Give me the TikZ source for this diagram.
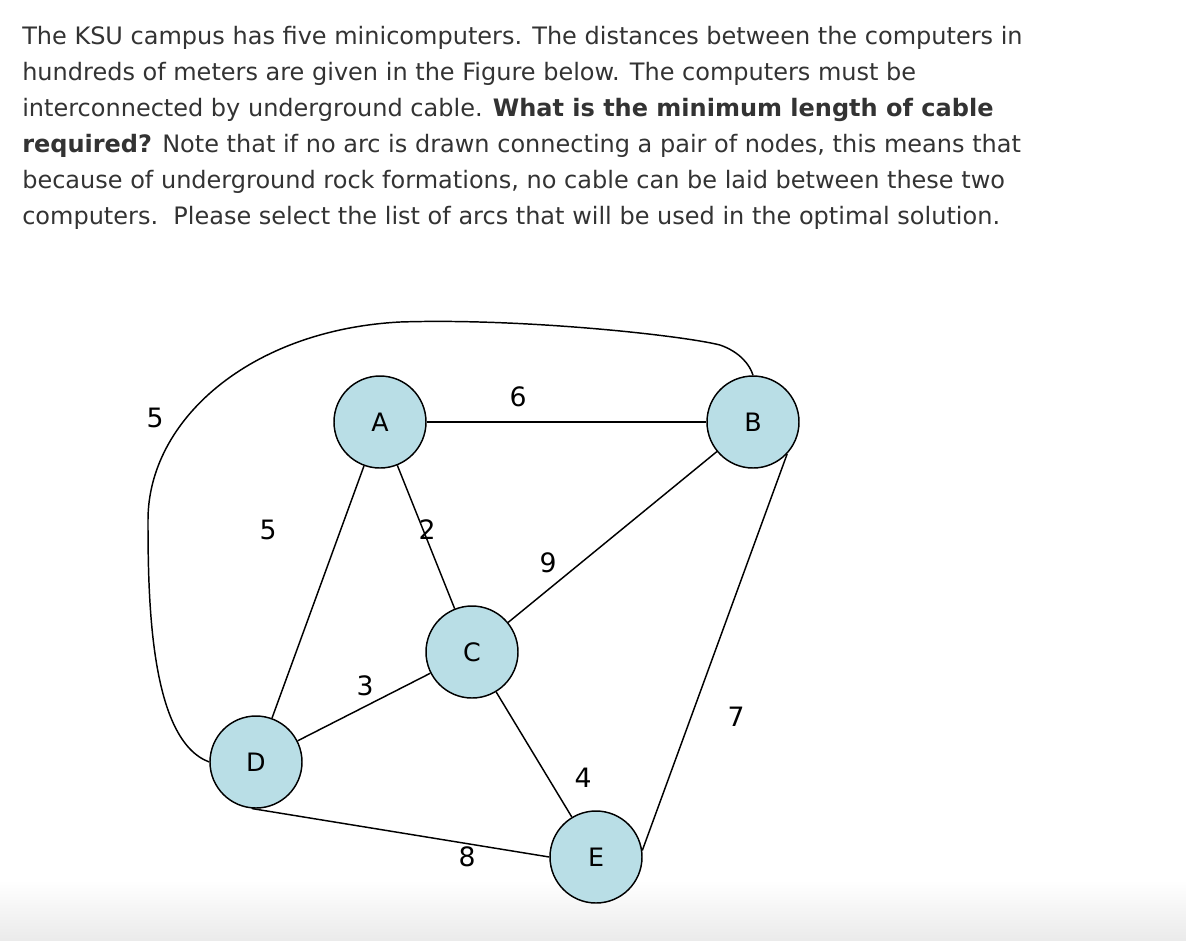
\documentclass[tikz,border=0pt]{standalone}
\usepackage{fontspec}
\setmainfont{DejaVu Sans}
\definecolor{nodeblue}{HTML}{B9DEE6}
\definecolor{txt}{HTML}{333333}
\begin{document}
\begin{tikzpicture}[x=0.75pt,y=-0.75pt,
  vert/.style={circle,draw=black,line width=1.1pt,fill=nodeblue,minimum size=69pt,inner sep=0pt,font=\fontsize{19}{19}\selectfont},
  edge/.style={line width=1.1pt},
  wt/.style={font=\fontsize{20}{20}\selectfont},
  line/.style={anchor=base west,inner sep=0pt,text=txt,font=\fontsize{18}{18}\selectfont}]
\useasboundingbox (0,0) rectangle (1186,940);
\fill[white] (0,0) rectangle (1186,940);
\shade[top color=white,bottom color=black!8] (0,880) rectangle (1186,940);
\node[line] (l1) at (22,44) {The KSU campus has five minicomputers. The distances between the computers in};
\node[line] (l2) at (22,80) {hundreds of meters are given in the Figure below. The computers must be};
\node[line] (l3) at (22,116) {interconnected by underground cable. \textbf{What is the minimum length of cable}};
\node[line] (l4) at (22,152) {\textbf{required?} Note that if no arc is drawn connecting a pair of nodes, this means that};
\node[line] (l5) at (22,188) {because of underground rock formations, no cable can be laid between these two};
\node[line] (l6) at (22,224) {computers.\ \ Please select the list of arcs that will be used in the optimal solution.};
\node[vert] (A) at (380,422) {A};
\node[vert] (B) at (753,422) {B};
\node[vert] (C) at (472,652) {C};
\node[vert] (D) at (256,762) {D};
\node[vert] (E) at (596,857) {E};
\draw[edge] (A) -- (B);
\draw[edge] (A) -- (D);
\draw[edge] (A) -- (C);
\draw[edge] (C) -- (B);
\draw[edge] (C) -- (D);
\draw[edge] (C) -- (E);
\draw[edge] (D.-95) -- (E.west);
\draw[edge] (B.-43) -- (E.8);
\draw[edge] (D.west) .. controls (150,740) and (148,600) .. (148,520)
  .. controls (148,420) and (250,330) .. (400,322)
  .. controls (520,318) and (680,335) .. (720,345)
  .. controls (740,352) and (750,365) .. (B.north);
\node[wt] (w1) at (155,418) {5};
\node[wt] (w2) at (268,530) {5};
\node[wt] (w3) at (427,530) {2};
\node[wt] (w4) at (518,397) {6};
\node[wt] (w5) at (548,563) {9};
\node[wt] (w6) at (365,686) {3};
\node[wt] (w7) at (736,717) {7};
\node[wt] (w8) at (583,778) {4};
\node[wt] (w9) at (467,857) {8};
\end{tikzpicture}
\end{document}
